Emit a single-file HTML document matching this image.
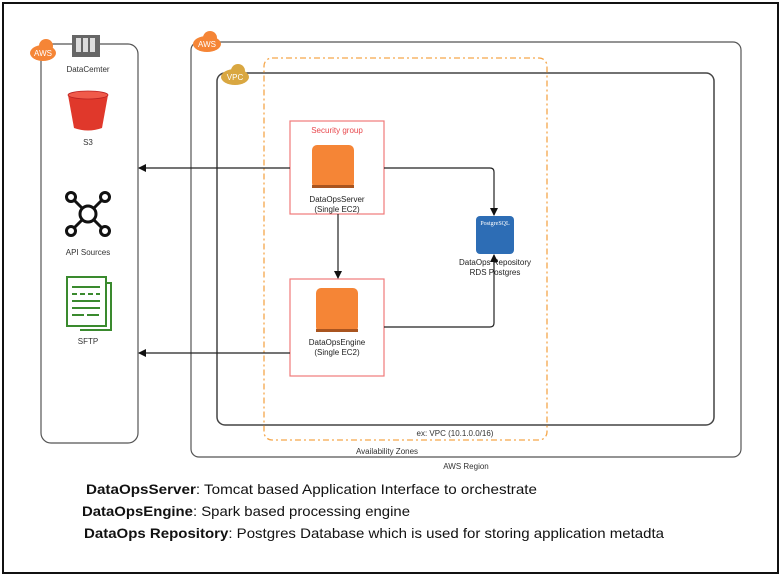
<!DOCTYPE html>
<html><head><meta charset="utf-8"><style>
html,body{margin:0;padding:0;background:#fff;}
svg{display:block;font-family:"Liberation Sans",sans-serif;}
</style></head><body>
<svg width="783" height="578" viewBox="0 0 783 578" xmlns="http://www.w3.org/2000/svg">
<defs><marker id="a" markerWidth="8" markerHeight="8" refX="7" refY="4" orient="auto" markerUnits="userSpaceOnUse"><path d="M0,0 L8,4 L0,8 z" fill="#111"/></marker></defs>
<rect x="3" y="3" width="775" height="570" fill="#fff" stroke="#111" stroke-width="2"/>
<!-- left box -->
<rect x="41" y="44" width="97" height="399" rx="10" fill="none" stroke="#555" stroke-width="1.2"/>
<!-- AWS region -->
<rect x="191" y="42" width="550" height="415" rx="8" fill="none" stroke="#555" stroke-width="1.2"/>
<!-- VPC -->
<rect x="217" y="73" width="497" height="352" rx="8" fill="none" stroke="#444" stroke-width="1.5"/>
<!-- AZ -->
<rect x="264" y="58" width="283" height="382" rx="8" fill="none" stroke="#f5a64a" stroke-width="1.3" stroke-dasharray="6,3,2,3"/>
<!-- clouds -->
<g><ellipse cx="43" cy="53" rx="13" ry="8" fill="#f58536"/><circle cx="46" cy="46" r="7" fill="#f58536"/><text x="43" y="56" font-size="8" fill="#fff" text-anchor="middle">AWS</text></g>
<g><ellipse cx="207" cy="44" rx="14" ry="8" fill="#f58536"/><circle cx="210" cy="38" r="7" fill="#f58536"/><text x="207" y="47" font-size="8" fill="#fff" text-anchor="middle">AWS</text></g>
<g><ellipse cx="235" cy="77" rx="14" ry="8" fill="#d9a741"/><circle cx="238" cy="71" r="7" fill="#d9a741"/><text x="235" y="80" font-size="8" fill="#fff" text-anchor="middle">VPC</text></g>
<!-- datacenter icon -->
<rect x="72" y="35" width="28" height="22" fill="#666"/>
<rect x="76" y="38" width="5" height="14" fill="#ddd"/><rect x="83" y="38" width="5" height="14" fill="#ddd"/><rect x="90" y="38" width="5" height="14" fill="#ddd"/>
<text x="88" y="72" font-size="8" fill="#333" text-anchor="middle">DataCemter</text>
<!-- S3 -->
<path d="M68,95 L108,95 L102,128 Q88,133 74,128 Z" fill="#e0382b"/>
<ellipse cx="88" cy="95" rx="20" ry="4" fill="#f05a4a" stroke="#b22" stroke-width="0.8"/>
<text x="88" y="145" font-size="8" fill="#333" text-anchor="middle">S3</text>
<!-- API icon -->
<g stroke="#111" stroke-width="3" fill="none">
<line x1="71" y1="197" x2="105" y2="231"/><line x1="105" y1="197" x2="71" y2="231"/>
<circle cx="88" cy="214" r="8" fill="#fff"/>
<circle cx="71" cy="197" r="4.5" fill="#fff"/><circle cx="105" cy="197" r="4.5" fill="#fff"/>
<circle cx="71" cy="231" r="4.5" fill="#fff"/><circle cx="105" cy="231" r="4.5" fill="#fff"/>
</g>
<text x="88" y="255" font-size="8" fill="#333" text-anchor="middle">API Sources</text>
<!-- SFTP -->
<g stroke="#3a8a2e" stroke-width="2" fill="#fff">
<path d="M75,283 L111,283 L111,330 L80,330"/>
<rect x="67" y="277" width="39" height="49"/>
<line x1="72" y1="287" x2="100" y2="287"/><line x1="72" y1="294" x2="100" y2="294" stroke-dasharray="5,3"/>
<line x1="72" y1="301" x2="100" y2="301"/><line x1="72" y1="308" x2="100" y2="308"/><line x1="72" y1="315" x2="100" y2="315" stroke-dasharray="12,3"/>
</g>
<text x="88" y="344" font-size="8" fill="#333" text-anchor="middle">SFTP</text>
<!-- security groups -->
<rect x="290" y="121" width="94" height="93" fill="none" stroke="#f07a7a" stroke-width="1.2"/>
<text x="337" y="133" font-size="8" fill="#e8474c" text-anchor="middle">Security group</text>
<rect x="312" y="145" width="42" height="43" rx="5" fill="#f58536"/>
<rect x="312" y="185" width="42" height="3" fill="#a9541f"/>
<text x="337" y="202" font-size="8" fill="#222" text-anchor="middle">DataOpsServer</text>
<text x="337" y="212" font-size="8" fill="#222" text-anchor="middle">(Single EC2)</text>
<rect x="290" y="279" width="94" height="97" fill="none" stroke="#f07a7a" stroke-width="1.2"/>
<rect x="316" y="288" width="42" height="44" rx="5" fill="#f58536"/>
<rect x="316" y="329" width="42" height="3" fill="#a9541f"/>
<text x="337" y="345" font-size="8" fill="#222" text-anchor="middle">DataOpsEngine</text>
<text x="337" y="355" font-size="8" fill="#222" text-anchor="middle">(Single EC2)</text>
<!-- postgres -->
<rect x="476" y="216" width="38" height="38" rx="4" fill="#2d6db5"/>
<text x="495" y="225" font-size="6" fill="#fff" text-anchor="middle" font-family="Liberation Serif,serif">PostgreSQL</text>
<text x="495" y="265" font-size="8" fill="#222" text-anchor="middle">DataOps Repository</text>
<text x="495" y="275" font-size="8" fill="#222" text-anchor="middle">RDS Postgres</text>
<!-- connectors -->
<g stroke="#222" stroke-width="1.2" fill="none">
<line x1="290" y1="168" x2="139" y2="168" marker-end="url(#a)"/>
<path d="M384,168 L490,168 Q494,168 494,172 L494,215" marker-end="url(#a)"/>
<line x1="338" y1="214" x2="338" y2="278" marker-end="url(#a)"/>
<path d="M384,327 L490,327 Q494,327 494,323 L494,255" marker-end="url(#a)"/>
<line x1="290" y1="353" x2="139" y2="353" marker-end="url(#a)"/>
</g>
<text x="455" y="436" font-size="8" fill="#333" text-anchor="middle">ex: VPC (10.1.0.0/16)</text>
<text x="387" y="454" font-size="8" fill="#333" text-anchor="middle">Availability Zones</text>
<text x="466" y="469" font-size="8" fill="#333" text-anchor="middle">AWS Region</text>
<!-- legend -->
<g font-size="14" fill="#111">
<text x="86" y="494" textLength="451" lengthAdjust="spacingAndGlyphs"><tspan font-weight="bold">DataOpsServer</tspan>: Tomcat based Application Interface to orchestrate</text>
<text x="82" y="516" textLength="328" lengthAdjust="spacingAndGlyphs"><tspan font-weight="bold">DataOpsEngine</tspan>: Spark based processing engine</text>
<text x="84" y="538" textLength="580" lengthAdjust="spacingAndGlyphs"><tspan font-weight="bold">DataOps Repository</tspan>: Postgres Database which is used for storing application metadta</text>
</g>
</svg>
</body></html>
